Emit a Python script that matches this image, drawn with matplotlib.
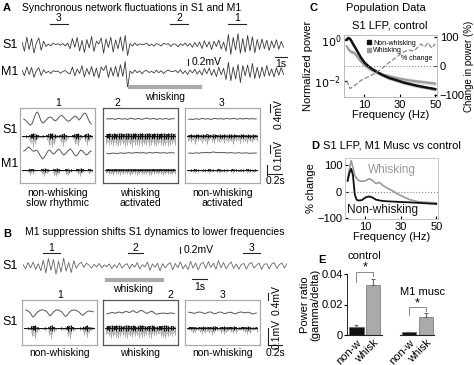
import numpy as np
import matplotlib.pyplot as plt
from matplotlib.lines import Line2D

plt.rcParams['font.family'] = ['Liberation Sans', 'DejaVu Sans']

# ---------------- data ----------------
# panel A long traces (uV, 0.2 s per sample)
s1_a = [120, -250, 310, -180, 260, -320, 90, 280, -210, 150,
        -60, 40, -30, 70, 20, 50, -10, 60, -40, 80,
        -150, 260, -90, 300, -240, 180, -300, 220, -120, 340,
        -260, 150, 40, 280, -330, 240, -100, 310, -280, 200,
        -150, 320, -250, 380, -420,
        60, -40, 80, -20, 50, 10, 30, 70, -30, 40,
        -50, 60, 20, -40, 70, 30, 50, -60, 40, 30,
        -70, 50, -20, 80, -40, 60, -90, 100, -60, 120,
        -140, 170, -80, 130, -180, 150, -60, 200, -160, 120,
        -250, 420, -380, 300, -200, 450, -330, 260, -290, 380, -240, 330, -310, 220, -180,
        240, -150, 190, -220, 160, -120, 210, -170, 140, -90]
m1_a = [80, -150, 200, -100, 180, -220, 60, 170, -140, 90,
        -40, 30, -60, 50, 20, 40, -50, 20, 60, -30,
        -80, 200, -150, 120, -60, 250, -200, 140, -100, 220,
        -180, 160, -240, 200, 60, 260, -220, 180, -160, 230,
        -200, 290, -180, 420, -650,
        40, -60, 80, -30, 50, -70, 40, 60, -20, 30,
        -40, 70, -30, 50, -60, 30, 80, 20, 20, 60,
        -30, 90, -70, 50, -100, 80, -40, 110, -80, 60,
        -120, 140, -70, 160, -130, 100, -180, 190, -110, 150,
        -300, 380, -350, 200, -280, 300, -420, 260, -150, 280, -220, 340, -260, 190, -240,
        200, -180, 260, -150, 120, -200, 170, -130, 180, -100]

# panel A insets: LFP (uV) and filtered envelope (uV)
lfp_a = {
    ('S1', 1): [0, -60, -150, -250, -300, -200, 50, 280, 350, 150, -100, -200, -150, -50, 50, 100, 80, -20, -100, -50,
                60, 150, 180, 100, 0, -80, -120, -60, 40, 120, 150, 60, -50, 50, 200, 300, 250, 50, -150, -250],
    ('S1', 2): [0, 20, -10, 30, 0, -20, 10, 30, 10, -10, 20, 0, -20, 10, 40, 20, -10, 0, 30, 10,
                -20, 0, 20, 50, 20, -10, 10, 30, 0, -20, 10, 20, -10, 0, 30, 10, -20, 0, 20, 10],
    ('S1', 3): [-20, 0, -30, -10, 20, 0, -20, 10, 30, 10, -10, 20, 0, -20, 10, 30, 20, 0, 20, 10,
                -10, 10, 30, 10, 0, 20, 30, 10, -10, 10, 20, 0, 10, 30, 20, 0, 10, 20, 0, 10],
    ('M1', 1): [100, 150, 250, 300, 200, 120, 80, 150, 100, -50, -200, -300, -200, -50, 100, 150, 50, -50, 0, 100,
                200, 150, 0, -100, -50, 50, 150, 200, 100, -50, -150, -100, 50, 150, 100, 0, -100, -50, 50, 100],
    ('M1', 2): [-20, -40, -30, -10, 0, -20, -30, -10, 10, 0, -20, -10, 10, 20, 0, -10, 10, 30, 20, 0,
                10, 20, 0, -10, 10, 20, 10, 0, 20, 30, 10, 0, 10, 20, 0, -10, 10, 20, 10, 0],
    ('M1', 3): [-10, 0, -20, -10, 10, 0, -10, 10, 20, 10, 30, 20, 10, 30, 50, 40, 20, 30, 20, 10,
                30, 20, 0, 10, 20, 10, 0, -10, 10, 20, 0, -10, 0, 10, 0, -20, -10, 0, -10, 0],
}
band_a = {
    ('S1', 1): [40, 60, 50, 200, 350, 280, 90, 50, 60, 40, 120, 300, 380, 250, 80,
                60, 200, 320, 150, 50, 40, 100, 280, 340, 120, 50, 180, 300, 160, 60],
    ('S1', 2): [260, 300, 280, 320, 290, 340, 300, 270, 330, 310, 280, 350, 300, 290, 320,
                340, 280, 300, 330, 290, 310, 340, 280, 300, 320, 290, 330, 300, 280, 310],
    ('S1', 3): [150, 200, 120, 250, 180, 140, 220, 160, 260, 130, 190, 240, 150, 200, 170,
                230, 140, 210, 180, 250, 160, 130, 220, 190, 150, 240, 170, 200, 140, 180],
    ('M1', 1): [30, 40, 80, 200, 150, 60, 40, 50, 180, 240, 120, 40, 60, 200, 260,
                140, 50, 40, 180, 220, 100, 40, 50, 160, 240, 120, 40, 60, 150, 80],
    ('M1', 2): [140, 180, 160, 200, 150, 170, 190, 160, 140, 180, 200, 170, 150, 190, 160,
                180, 170, 150, 190, 200, 160, 140, 180, 170, 190, 150, 160, 180, 170, 150],
    ('M1', 3): [60, 90, 70, 120, 80, 60, 100, 90, 70, 110, 80, 60, 90, 130, 70,
                80, 100, 60, 90, 120, 80, 70, 100, 90, 60, 110, 80, 70, 90, 60],
}
state_a = ['non-whisking\nslow rhythmic', 'whisking\nactivated', 'non-whisking\nactivated']

# panel B long trace (uV, 0.15 s per sample)
s1_b = [60, -120, 150, -80, 170, -140, 100, -200,
        250, -300, 320, -180, 280, -350, 200, -260, 340, -220, 150, -280, 230, -100,
        80, 160, -60, 120, 40, -90, 70, -40, 110, -80, 50, -30,
        90, -110, 60, -70, 130, -90, 40, 100, -120, 80, -50, 140, -130, 60, -40, 170, -180, 90, -60, 120,
        -210, 100, -80, 60,
        140, -160, 110, -70, 180, -120, 60, -150, 200, -90, 130, -170, 80, 160, -110, 190, -60, 120,
        -140, 230, -80, 150, -120, 60, 170,
        -100, 90, -140, 60, 110, -130, 80, 150, -90, 40, 120, -150, 70, 100, -120, 90, 140, -110,
        60, 130, -90, 110]
lfp_b = [
    [150, 120, 60, -50, -200, -150, -20, 60, 120, 150, 160, 120, 80, -30, -150, -60, 50, 120, 160, 140,
     100, 40, -80, -180, -100, 20, 100, 140, 150, 130, 90, 30, -60, -120, -40, 40, 90, 100, 80, 60],
    [-40, -20, 0, 30, 10, -10, 20, 50, 30, 0, 40, 80, 60, 20, 60, 120, 80, 20, 40, 100,
     140, 90, 30, -20, 10, 60, 90, 40, -30, -60, -40, -20, -10, 0, -20, -30, -10, 0, -10, -20],
    [40, 30, 10, -20, 0, 30, 50, 40, 10, -30, -10, 30, 50, 40, 0, -40, -10, 30, 50, 30,
     -10, -30, 0, 30, 40, 20, -20, -40, 0, 30, 50, 40, 10, 20, 40, 30, -20, -50, -30, 0],
]
band_b = [
    [40, 60, 80, 260, 340, 120, 50, 40, 60, 50, 220, 330, 140, 50, 40,
     60, 50, 80, 280, 320, 100, 50, 40, 60, 80, 240, 300, 120, 60, 40],
    [200, 280, 320, 260, 300, 340, 280, 220, 300, 320, 260, 310, 280, 240, 330,
     300, 260, 220, 290, 320, 280, 240, 200, 260, 300, 340, 280, 230, 260, 240],
    [60, 100, 160, 120, 80, 140, 200, 150, 90, 160, 220, 180, 100, 80, 160,
     200, 140, 90, 120, 180, 150, 80, 60, 100, 140, 200, 150, 80, 60, 120],
]
state_b = ['non-whisking', 'whisking', 'non-whisking']

# panel C: normalized power spectra and % change
freq_c = [0, 1, 2, 3, 4, 5, 6, 8, 10, 12, 14, 17, 20, 24, 28, 32, 36, 40, 45, 50]
power_nonwhisk = [1.05, 1.25, 1.1, 0.8, 0.55, 0.4, 0.28, 0.14, 0.08, 0.055, 0.04, 0.028, 0.02,
                  0.014, 0.011, 0.0085, 0.007, 0.0058, 0.0048, 0.004]
power_whisk = [0.5, 0.35, 0.28, 0.26, 0.24, 0.2, 0.15, 0.09, 0.06, 0.045, 0.035, 0.026, 0.021,
               0.017, 0.014, 0.012, 0.0105, 0.0095, 0.0085, 0.0075]
freq_pct = [0, 2, 5, 8, 12, 16, 20, 24, 28, 32, 35, 38, 40, 42, 44, 46, 48, 50]
pct_change_c = [-50, -78, -65, -50, -38, -26, -8, 12, 30, 48, 55, 52, 64, 76, 66, 80, 62, 76]

# panel D: % change M1 musc vs control
freq_d = [0, 1, 2, 3, 4, 5, 6, 8, 10, 12, 14, 16, 18, 20, 22, 25, 28, 31, 35, 40, 45, 50]
pct_whisk_d = [45, 85, 115, 90, 60, 50, 42, 38, 40, 48, 42, 30, 34, 22, 14, 4, -8, -18, -30, -38, -40, -42]
pct_nonwhisk_d = [40, 70, 85, 60, -10, -30, -33, -32, -22, -18, -22, -30, -33, -35, -36, -37, -38, -39,
                  -40, -42, -44, -46]

# panel E: gamma/delta power ratio
bar_labels = ['non-w', 'whisk', 'non-w', 'whisk']
ratio_mean = [0.0055, 0.0325, 0.0018, 0.0118]
ratio_err = [0.0008, 0.0045, 0.0004, 0.0025]

# ---------------- layout helpers (pixel coords, origin top-left) ----------------
W, H = 474, 365
fig = plt.figure(figsize=(W / 100, H / 100), dpi=100)
TR = '#3a3a3a'
FS = 7.5


def rect(x0, y0, x1, y1):
    return [x0 / W, 1 - y1 / H, (x1 - x0) / W, (y1 - y0) / H]


def ftext(x, y, s, **kw):
    kw.setdefault('fontsize', FS)
    kw.setdefault('ha', 'center')
    kw.setdefault('va', 'center')
    fig.text(x / W, 1 - y / H, s, **kw)


def fline(x0, y0, x1, y1, **kw):
    kw.setdefault('color', '#222')
    kw.setdefault('lw', 0.8)
    fig.add_artist(Line2D([x0 / W, x1 / W], [1 - y0 / H, 1 - y1 / H], **kw))


def trace_ax(x0, x1, yc, half_px, half_val, xlim):
    ax = fig.add_axes(rect(x0, yc - half_px, x1, yc + half_px))
    ax.set_ylim(-half_val, half_val)
    ax.set_xlim(*xlim)
    ax.axis('off')
    return ax


def frame(x0, y0, x1, y1, color):
    ax = fig.add_axes(rect(x0, y0, x1, y1))
    ax.set_xticks([])
    ax.set_yticks([])
    ax.patch.set_alpha(0)
    for s in ax.spines.values():
        s.set_color(color)
        s.set_linewidth(0.9)


def draw_lfp(x0, x1, yc, vals):
    ax = trace_ax(x0, x1, yc, 10, 500, (-0.03, 1.2))
    ax.plot(np.arange(len(vals)) * 0.03, vals, color='#555', lw=0.7)


def draw_band(x0, x1, yc, amps):
    ax = trace_ax(x0, x1, yc, 12, 400, (-0.5, len(amps) - 0.5))
    a = np.array(amps, dtype=float)
    xs = np.arange(len(a))
    ax.fill_between(xs, -0.75 * a, 0.1 * a, step='mid', color='#d6d6d6', lw=0)
    ax.vlines(xs, -a, 0.3 * a, color='#aaa', lw=0.7)
    ax.vlines(xs + 0.5, -0.6 * a, 0.15 * a, color='#bbb', lw=0.6)
    ax.fill_between(xs, -0.2 * a, 0.2 * a, step='mid', color='#222', lw=0)
    ax.vlines(xs + 0.3, -0.3 * a, 0.28 * a, color='#111', lw=0.8)
    ax.axhline(0, color='#111', lw=0.7)


# ---------------- panel A ----------------
ftext(7, 8, 'A', fontweight='bold', fontsize=8)
ftext(22, 8, 'Synchronous network fluctuations in S1 and M1', ha='left')
for lab, x0, x1 in [('3', 50, 68), ('2', 170, 188), ('1', 228, 246)]:
    fline(x0, 24, x1, 24)
    ftext((x0 + x1) / 2, 18, lab)
ftext(10, 45, 'S1', fontsize=9)
ftext(10, 72, 'M1', fontsize=9)
ax = trace_ax(22, 286, 45, 15, 600, (0, 22))
ax.plot(np.arange(len(s1_a)) * 0.2, s1_a, color=TR, lw=0.6)
ax = trace_ax(22, 286, 72, 15, 600, (0, 22))
ax.plot(np.arange(len(m1_a)) * 0.2, m1_a, color=TR, lw=0.6)
fline(130, 87, 200, 87, lw=3, color='#aaa')
ftext(165, 97, 'whisking')
fline(188, 59, 188, 65)
ftext(192, 62, '0.2mV', ha='left')
fline(275, 57, 287, 57)
ftext(281, 64, '1s')

boxes = [(20, 95), (103, 178), (185, 260)]
for i, (x0, x1) in enumerate(boxes):
    frame(x0, 108, x1, 183, '#555' if i == 1 else '#aaa')
    draw_lfp(x0 + 2, x1 - 2, 119, lfp_a[('S1', i + 1)])
    draw_band(x0 + 2, x1 - 2, 136, band_a[('S1', i + 1)])
    draw_lfp(x0 + 2, x1 - 2, 153, lfp_a[('M1', i + 1)])
    draw_band(x0 + 2, x1 - 2, 170, [v * 0.8 for v in band_a[('M1', i + 1)]])
    ftext((x0 + x1) / 2, 198, state_a[i], linespacing=1.0)
for lab, x in [('1', 58), ('2', 117), ('3', 222)]:
    ftext(x, 103, lab)
ftext(10, 130, 'S1', fontsize=9)
ftext(10, 164, 'M1', fontsize=9)
fline(270, 104, 270, 112)
ftext(279, 114, '0.4mV', rotation=90)
fline(270, 145, 270, 153)
ftext(279, 155, '0.1mV', rotation=90)
fline(267, 165, 267, 175)
fline(267, 174, 282, 174)
ftext(275, 181, '0.2s')

# ---------------- panel B ----------------
ftext(7, 234, 'B', fontweight='bold', fontsize=8)
ftext(25, 232, 'M1 suppression shifts S1 dynamics to lower frequencies', ha='left')
for lab, x0, x1 in [('1', 43, 60), ('2', 128, 143), ('3', 243, 260)]:
    fline(x0, 253, x1, 253)
    ftext((x0 + x1) / 2, 248, lab)
fline(180, 247, 180, 253)
ftext(184, 250, '0.2mV', ha='left')
ftext(10, 266, 'S1', fontsize=9)
ax = trace_ax(23, 287, 266, 14, 600, (0, 15.6))
ax.plot(np.arange(len(s1_b)) * 0.15, s1_b, color='#666', lw=0.6)
fline(107, 280, 162, 280, lw=3, color='#aaa')
ftext(133, 289, 'whisking')
fline(192, 279, 207, 279)
ftext(200, 287, '1s')

boxes_b = [(22, 97), (103, 178), (185, 260)]
for i, (x0, x1) in enumerate(boxes_b):
    frame(x0, 300, x1, 345, '#555' if i == 1 else '#aaa')
    draw_lfp(x0 + 2, x1 - 2, 313, lfp_b[i])
    draw_band(x0 + 2, x1 - 2, 328, band_b[i])
    ftext((x0 + x1) / 2, 353, state_b[i])
for lab, x in [('1', 60), ('2', 170), ('3', 223)]:
    ftext(x, 295, lab)
ftext(10, 322, 'S1', fontsize=9)
fline(268, 293, 268, 300)
ftext(277, 300, '0.4mV', rotation=90)
fline(268, 328, 268, 345)
ftext(277, 334, '0.1mV', rotation=90)
fline(268, 345, 282, 345)
ftext(276, 353, '0.2s')

# ---------------- panel C ----------------
ftext(313, 8, 'C', fontweight='bold', fontsize=8)
ftext(386, 8, 'Population Data', fontsize=8)
ftext(390, 25, 'S1 LFP, control', fontsize=8)
axC = fig.add_axes(rect(344, 35, 437, 97))
pn = np.array(power_nonwhisk)
pw = np.array(power_whisk)
axC.fill_between(freq_c, pw * 0.8, pw * 1.25, color='#d4d4d4', lw=0)
axC.fill_between(freq_c, pn * 0.82, pn * 1.2, color='#c4c4c4', lw=0)
axC.plot(freq_c, pw, color='#999', lw=1.4, label='Whisking')
axC.plot(freq_c, pn, color='#111', lw=1.8, label='Non-whisking')
axC.set_yscale('log')
axC.set_ylim(10 ** -2.78, 10 ** 0.24)
axC.set_xlim(-1.5, 51)
axC.set_xticks([10, 30, 50])
axC.set_yticks([1, 0.01])
axC.set_yticklabels(['$10^0$', '$10^{-2}$'])
axC.minorticks_off()
axC.tick_params(direction='in', length=2, labelsize=8, pad=2)
axC.set_ylabel('Normalized power', fontsize=8, labelpad=1)
axC.set_xlabel('Frequency (Hz)', fontsize=8, labelpad=0)
h = [Line2D([], [], ls='', marker='s', ms=3, color='#111'),
     Line2D([], [], ls='', marker='s', ms=3, color='#999')]
axC.legend(h, ['Non-whisking', 'Whisking'], loc='upper left', bbox_to_anchor=(0.2, 1.0),
           frameon=False, fontsize=5, handlelength=0.5, handletextpad=0.3,
           labelspacing=0.05, borderpad=0.2)
axC2 = axC.twinx()
axC2.plot(freq_pct, pct_change_c, ls='--', color='#888', lw=0.9)
axC2.axhline(0, ls=':', color='#888', lw=0.8)
axC2.set_ylim(-107, 107)
axC2.set_yticks([-100, 0, 100])
axC2.tick_params(direction='in', length=2, labelsize=8, pad=2)
axC2.set_ylabel('Change in power (%)', fontsize=7)
axC2.yaxis.set_label_coords(1.29, 0.5)
axC2.text(0.78, 0.6, '% change', transform=axC2.transAxes, fontsize=5, ha='center')
for a in (axC, axC2):
    for s in a.spines.values():
        s.set_color('#bbb')
        s.set_linewidth(0.6)

# ---------------- panel D ----------------
ftext(315, 146, 'D', fontweight='bold', fontsize=8)
ftext(392, 146, 'S1 LFP, M1 Musc vs control', fontsize=8)
axD = fig.add_axes(rect(345, 158, 438, 219))
axD.axhline(0, ls=':', color='#888', lw=0.8)
axD.plot(freq_d, pct_whisk_d, color='#999', lw=1.2)
axD.plot(freq_d, pct_nonwhisk_d, color='#111', lw=1.3)
axD.set_xlim(-1.5, 51)
axD.set_ylim(-102, 125)
axD.set_xticks([10, 30, 50])
axD.set_yticks([-100, 0, 100])
axD.tick_params(direction='in', length=2, labelsize=8, pad=2)
axD.set_ylabel('% change', fontsize=8, labelpad=1)
axD.set_xlabel('Frequency (Hz)', fontsize=8, labelpad=0)
axD.text(0.5, 0.76, 'Whisking', transform=axD.transAxes, color='#999', fontsize=8.5, ha='center')
axD.text(0.4, 0.1, 'Non-whisking', transform=axD.transAxes, color='#111', fontsize=8.5, ha='center')
for s in axD.spines.values():
    s.set_color('#bbb')
    s.set_linewidth(0.6)

# ---------------- panel E ----------------
ftext(322, 260, 'E', fontweight='bold', fontsize=8)
axE = fig.add_axes(rect(347, 274, 436, 335))
pos = [0, 1, 3.1, 4.1]
cols = ['#111', '#aaa', '#111', '#aaa']
axE.bar(pos, ratio_mean, width=0.85, color=cols, edgecolor='#555', lw=0.4)
axE.errorbar(pos, ratio_mean, yerr=[[0] * 4, ratio_err], fmt='none', ecolor='#666',
             elinewidth=0.8, capsize=1.5, capthick=0.8)
axE.set_xlim(-0.55, 4.7)
axE.set_ylim(0, 0.04)
axE.set_yticks([0, 0.02, 0.04])
axE.set_yticklabels(['0', '0.02', '0.04'])
axE.set_xticks(pos)
axE.set_xticklabels(bar_labels, rotation=45, ha='right', rotation_mode='anchor', fontsize=8)
axE.tick_params(axis='x', length=0, pad=2)
axE.tick_params(axis='y', direction='out', length=2, labelsize=8, pad=1)
for s in ('top', 'right', 'bottom'):
    axE.spines[s].set_visible(False)
axE.spines['left'].set_linewidth(0.6)
axE.plot([-0.55, 1.5], [0, 0], color='#222', lw=0.8, clip_on=False)
axE.plot([2.6, 4.6], [0, 0], color='#222', lw=0.8, clip_on=False)
axE.plot([0, 0, 1, 1], [0.035, 0.0415, 0.0415, 0.0385], color='#888', lw=0.7, clip_on=False)
axE.text(0.5, 0.0445, '*', ha='center', va='center', fontsize=9, clip_on=False)
axE.plot([3.1, 3.1, 4.1, 4.1], [0.013, 0.0185, 0.0185, 0.0155], color='#888', lw=0.7)
axE.text(3.6, 0.021, '*', ha='center', va='center', fontsize=9)
axE.text(0.5, 0.0515, 'control', ha='center', va='center', fontsize=8, clip_on=False)
axE.text(3.9, 0.0285, 'M1 musc', ha='center', va='center', fontsize=8)
axE.set_ylabel('Power ratio\n(gamma/delta)', fontsize=8, labelpad=1, linespacing=1.0)

fig.savefig('out.png', dpi=100)
